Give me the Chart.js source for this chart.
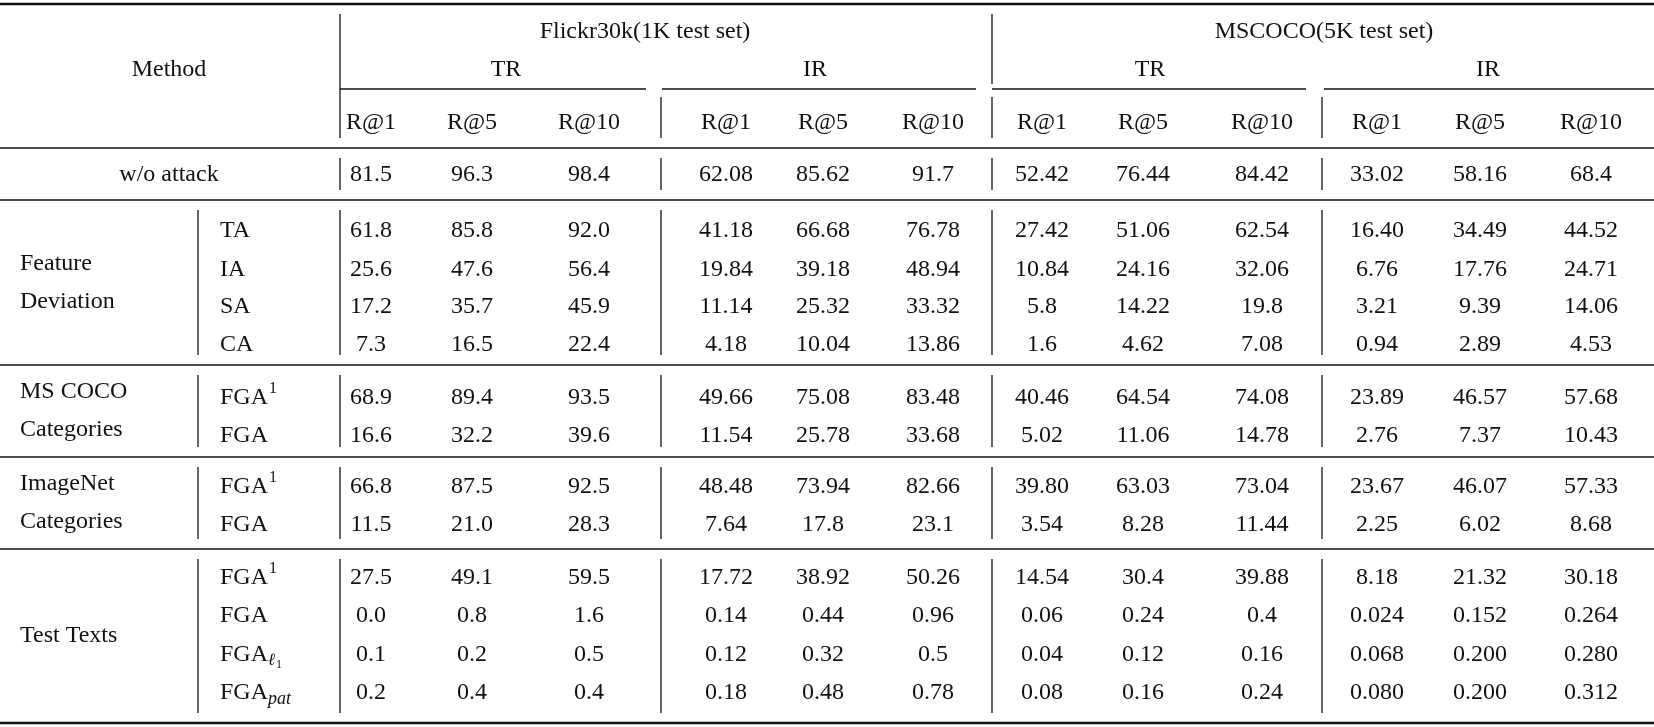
<!DOCTYPE html>
<html>
<head>
<meta charset="utf-8">
<script src="https://cdn.jsdelivr.net/npm/chart.js@4"></script>
<style>
body { margin: 0; background: #fff; }
#box { width: 1654px; height: 727px; }
</style>
</head>
<body>
<div id="box"><canvas id="myChart"></canvas></div>
<script>
// table data
var groupLabels = ["Flickr30k(1K test set)", "MSCOCO(5K test set)"];
var taskLabels = ["TR", "IR", "TR", "IR"];
var metricLabels = ["R@1", "R@5", "R@10"];
var blockLabels = [["w/o attack"], ["Feature", "Deviation"], ["MS COCO", "Categories"], ["ImageNet", "Categories"], ["Test Texts"]];
var methodLabels = [
  [""],
  ["TA", "IA", "SA", "CA"],
  ["FGA^1", "FGA"],
  ["FGA^1", "FGA"],
  ["FGA^1", "FGA", "FGA_l1", "FGA_pat"]
];
var woAttack = ["81.5","96.3","98.4","62.08","85.62","91.7","52.42","76.44","84.42","33.02","58.16","68.4"];
var featureDev = [
  ["61.8","85.8","92.0","41.18","66.68","76.78","27.42","51.06","62.54","16.40","34.49","44.52"],
  ["25.6","47.6","56.4","19.84","39.18","48.94","10.84","24.16","32.06","6.76","17.76","24.71"],
  ["17.2","35.7","45.9","11.14","25.32","33.32","5.8","14.22","19.8","3.21","9.39","14.06"],
  ["7.3","16.5","22.4","4.18","10.04","13.86","1.6","4.62","7.08","0.94","2.89","4.53"]
];
var cocoCat = [
  ["68.9","89.4","93.5","49.66","75.08","83.48","40.46","64.54","74.08","23.89","46.57","57.68"],
  ["16.6","32.2","39.6","11.54","25.78","33.68","5.02","11.06","14.78","2.76","7.37","10.43"]
];
var imagenetCat = [
  ["66.8","87.5","92.5","48.48","73.94","82.66","39.80","63.03","73.04","23.67","46.07","57.33"],
  ["11.5","21.0","28.3","7.64","17.8","23.1","3.54","8.28","11.44","2.25","6.02","8.68"]
];
var testTexts = [
  ["27.5","49.1","59.5","17.72","38.92","50.26","14.54","30.4","39.88","8.18","21.32","30.18"],
  ["0.0","0.8","1.6","0.14","0.44","0.96","0.06","0.24","0.4","0.024","0.152","0.264"],
  ["0.1","0.2","0.5","0.12","0.32","0.5","0.04","0.12","0.16","0.068","0.200","0.280"],
  ["0.2","0.4","0.4","0.18","0.48","0.78","0.08","0.16","0.24","0.080","0.200","0.312"]
];
var blocks = [[woAttack], featureDev, cocoCat, imagenetCat, testTexts];

// layout (in scale units = pixels)
var colX = [371, 472, 589, 726, 823, 933, 1042, 1143, 1262, 1377, 1480, 1591];
var sepX = [661, 992, 1322];
var rowY = [[175], [231, 270, 307, 345], [398, 436], [487, 525], [578, 616, 655, 693]];
var ruleY = [200, 365, 457, 549];
var blockTop = [148, 200, 365, 457, 549];
var blockBot = [200, 365, 457, 549, 723];
var FONT = "Liberation Serif";
var FS = 24;

function drawLabel(ctx, s, x, y) {
  var main = s, sup = null, sub = null;
  if (s.indexOf("^") >= 0) { main = s.split("^")[0]; sup = s.split("^")[1]; }
  if (s.indexOf("_") >= 0) { main = s.split("_")[0]; sub = s.split("_")[1]; }
  ctx.textAlign = "left";
  ctx.font = FS + "px " + FONT;
  var w = ctx.measureText(main).width;
  ctx.fillText(main, x, y);
  var xe = x + w;
  if (sup) { ctx.font = "16px " + FONT; ctx.fillText(sup, xe + 1, y - 9); }
  if (sub === "l1") {
    ctx.font = "italic 17px " + FONT; ctx.fillText("\u2113", xe, y + 6);
    ctx.font = "12px " + FONT; ctx.fillText("1", xe + 8, y + 10);
  } else if (sub) {
    ctx.font = "italic 18px " + FONT; ctx.fillText(sub, xe, y + 6);
  }
}

var tablePlugin = {
  id: "table",
  afterDraw: function(chart) {
    var ctx = chart.ctx, sx = chart.scales.x, sy = chart.scales.y;
    var X = function(v) { return sx.getPixelForValue(v); };
    var Y = function(v) { return sy.getPixelForValue(v); };
    ctx.save();
    ctx.fillStyle = "#111"; ctx.strokeStyle = "#111";
    ctx.textBaseline = "middle";
    function hline(x1, x2, y, w) { ctx.lineWidth = w; ctx.beginPath(); ctx.moveTo(X(x1), Y(y)); ctx.lineTo(X(x2), Y(y)); ctx.stroke(); }
    function vline(x, y1, y2) { ctx.lineWidth = 1.3; ctx.beginPath(); ctx.moveTo(X(x), Y(y1)); ctx.lineTo(X(x), Y(y2)); ctx.stroke(); }
    function text(s, x, y, align) { ctx.font = FS + "px " + FONT; ctx.textAlign = align || "center"; ctx.fillText(s, X(x), Y(y)); }

    // rules
    hline(0, 1654, 4, 2.6);
    hline(0, 1654, 148, 1.3);
    ruleY.forEach(function(y) { hline(0, 1654, y, 1.3); });
    hline(0, 1654, 723, 2.6);
    hline(340, 646, 89, 1.3); hline(662, 976, 89, 1.3);
    hline(992, 1306, 89, 1.3); hline(1324, 1654, 89, 1.3);

    // header
    text("Method", 169, 70);
    text(groupLabels[0], 645, 32); text(groupLabels[1], 1324, 32);
    var taskX = [506, 815, 1150, 1488];
    taskLabels.forEach(function(t, i) { text(t, taskX[i], 70); });
    colX.forEach(function(x, i) { text(metricLabels[i % 3], x, 123); });
    vline(340, 14, 138);
    vline(992, 14, 84);
    sepX.forEach(function(x) { vline(x, 97, 138); });

    // body
    blocks.forEach(function(rows, b) {
      var t = blockTop[b] + 10, bt = blockBot[b] - 10;
      vline(340, t, bt);
      sepX.forEach(function(x) { vline(x, t, bt); });
      if (b > 0) vline(198, t, bt);
      var lab = blockLabels[b];
      if (b === 0) text(lab[0], 169, rowY[0][0]);
      else {
        var mid = (blockTop[b] + blockBot[b]) / 2;
        lab.forEach(function(l, k) { text(l, 20, mid + (k - (lab.length - 1) / 2) * 38, "left"); });
      }
      rows.forEach(function(vals, r) {
        var y = rowY[b][r];
        if (b > 0) drawLabel(ctx, methodLabels[b][r], X(220), Y(y));
        vals.forEach(function(v, c) { text(v, colX[c], y); });
      });
    });
    ctx.restore();
  }
};

new Chart(document.getElementById("myChart"), {
  type: "scatter",
  data: { datasets: [{ data: [] }] },
  options: {
    responsive: true,
    maintainAspectRatio: false,
    animation: false,
    layout: { padding: 0 },
    plugins: { legend: { display: false }, tooltip: { enabled: false } },
    scales: {
      x: { type: "linear", min: 0, max: 1654, display: false },
      y: { type: "linear", min: 0, max: 727, reverse: true, display: false }
    }
  },
  plugins: [tablePlugin]
});
</script>
</body>
</html>
